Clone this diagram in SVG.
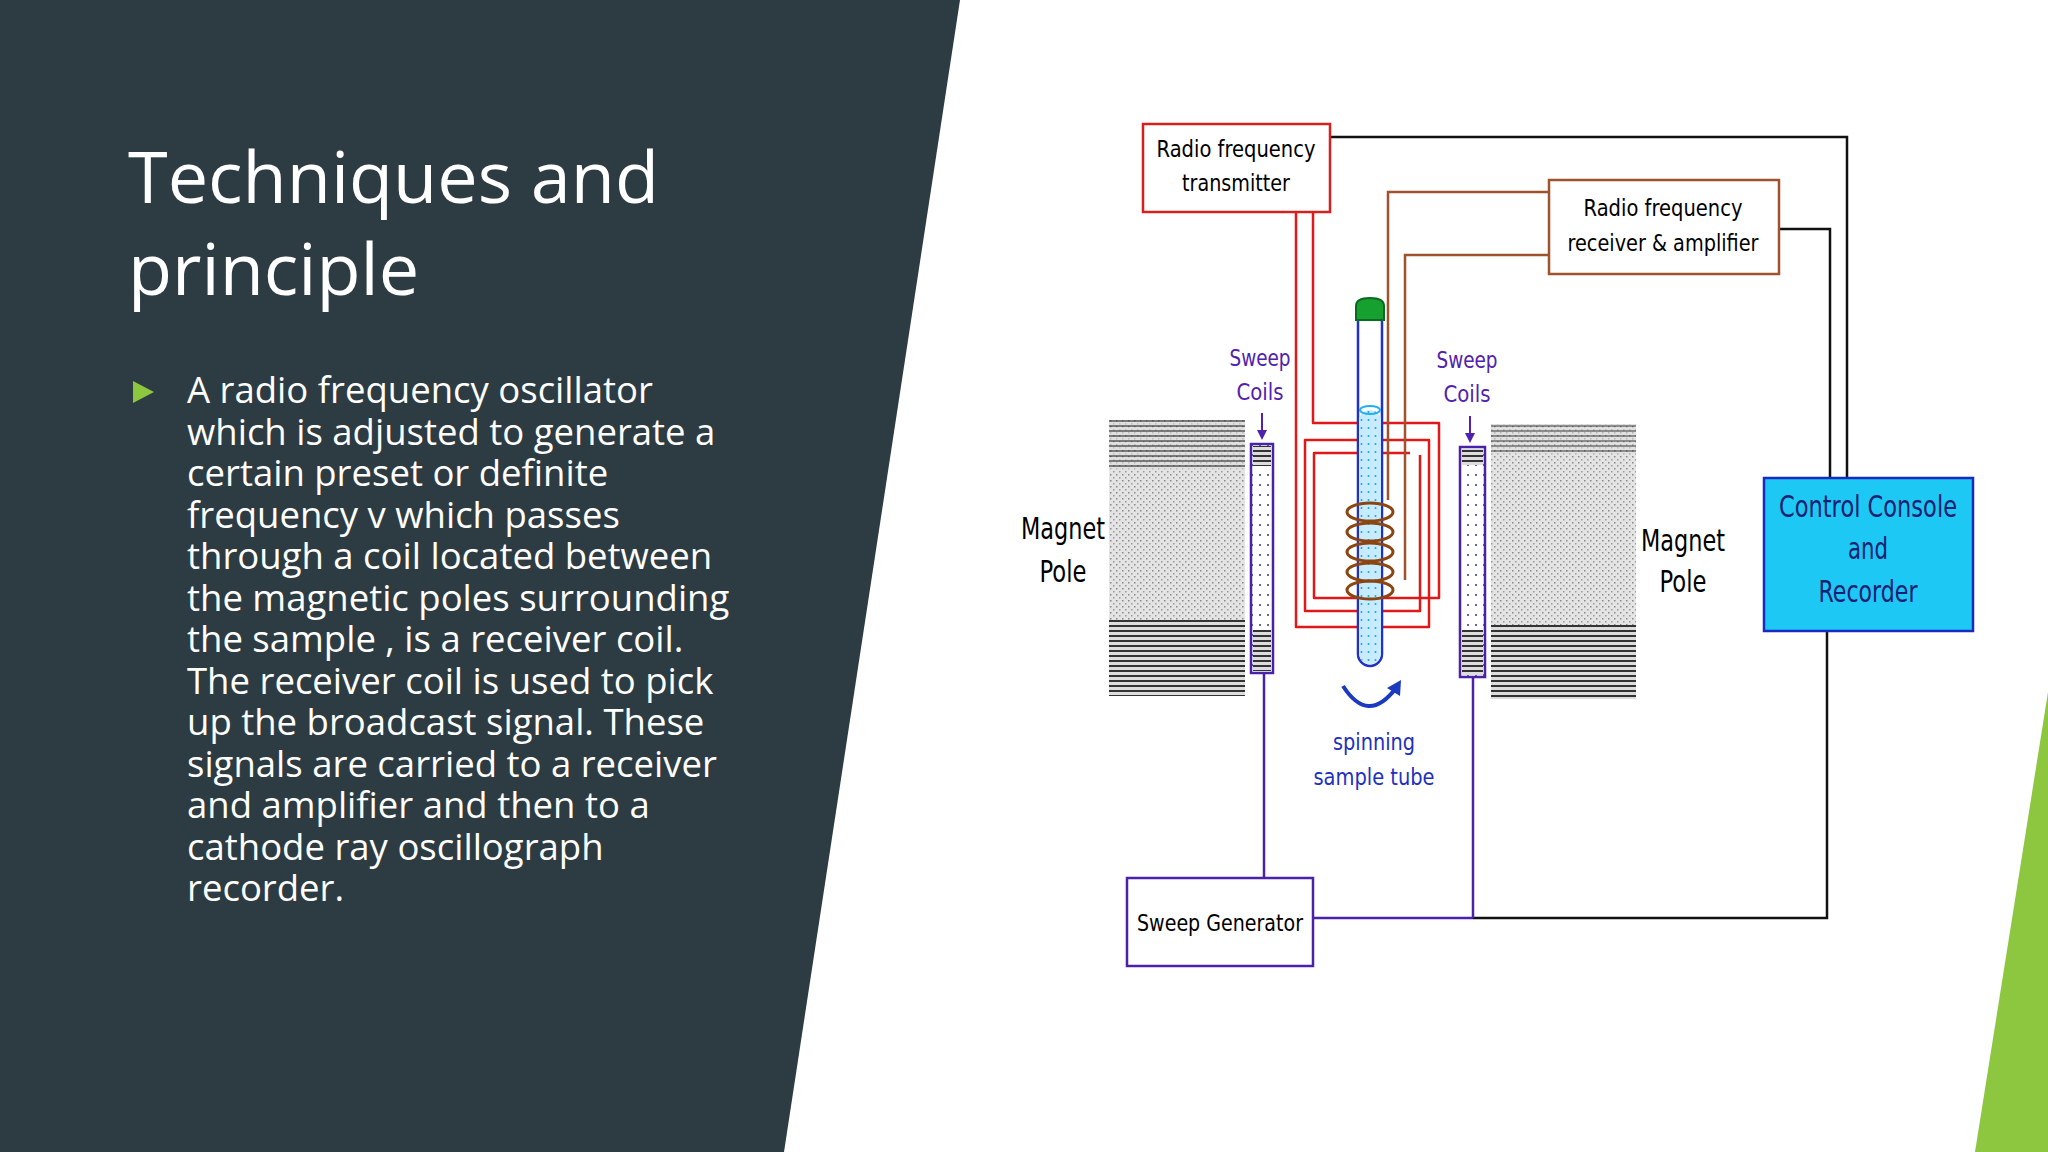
<svg xmlns="http://www.w3.org/2000/svg" width="2048" height="1152" viewBox="0 0 2048 1152">
<style>
.t{font-family:"Open Sans","Liberation Sans",sans-serif;fill:#fff}
.d{font-family:"DejaVu Sans","Liberation Sans",sans-serif;text-anchor:middle}
.box{fill:#fff;stroke-width:2.5}
.w{fill:none;stroke-width:2.5}
</style>
<defs>
<pattern id="grain" width="6" height="6" patternUnits="userSpaceOnUse">
<rect width="6" height="6" fill="#e4e4e4"/><rect x="0" y="0" width="1.5" height="1.5" fill="#888"/><rect x="3" y="3" width="1.5" height="1.5" fill="#999"/>
</pattern>
<pattern id="stripes" width="8" height="5" patternUnits="userSpaceOnUse">
<rect width="8" height="5" fill="#ddd"/><rect width="8" height="2" fill="#333"/>
</pattern>
<pattern id="dots" width="8" height="10" patternUnits="userSpaceOnUse">
<rect width="8" height="10" fill="#fff"/><circle cx="4" cy="5" r="1" fill="#3030a0"/>
</pattern>
<pattern id="tdots" width="7" height="8" patternUnits="userSpaceOnUse">
<rect width="7" height="8" fill="#c8ecff"/><circle cx="3.5" cy="4" r="1" fill="#20a0e0"/>
</pattern>
</defs>
<rect width="2048" height="1152" fill="#fff"/>
<polygon points="0,0 960,0 784,1152 0,1152" fill="#2d3b42"/>
<polygon points="2048,692 1975,1152 2048,1152" fill="#8dc63f"/>
<g id="title"><text class="t" x="128" y="203" font-size="72">Techniques and</text><text class="t" x="128" y="295" font-size="72">principle</text></g>
<g id="body">
<polygon points="133,381 154,392 133,403" fill="#8dc63f"/>
<text class="t" font-size="36.5"><tspan x="187" y="403">A radio frequency oscillator</tspan><tspan x="187" y="445">which is adjusted to generate a</tspan><tspan x="187" y="486">certain preset or definite</tspan><tspan x="187" y="528">frequency v which passes</tspan><tspan x="187" y="569">through a coil located between</tspan><tspan x="187" y="611">the magnetic poles surrounding</tspan><tspan x="187" y="652">the sample , is a receiver coil.</tspan><tspan x="187" y="694">The receiver coil is used to pick</tspan><tspan x="187" y="735">up the broadcast signal. These</tspan><tspan x="187" y="777">signals are carried to a receiver</tspan><tspan x="187" y="818">and amplifier and then to a</tspan><tspan x="187" y="860">cathode ray oscillograph</tspan><tspan x="187" y="901">recorder.</tspan></text>
</g>
<g id="connectors">
<path class="w" stroke="#111" d="M1330,137 H1847 V478"/>
<path class="w" stroke="#111" d="M1779,229 H1830 V478"/>
<path class="w" stroke="#111" d="M1827,631 V918 H1473"/>
<path class="w" stroke="#4a22a8" d="M1473,918 H1313"/>
<path class="w" stroke="#4a22a8" d="M1264,673 V878"/>
<path class="w" stroke="#4a22a8" d="M1473,677 V918"/>
<path class="w" stroke="#e01818" stroke-linejoin="round" d="M1296,212 V627 H1429 V440 H1305 V611 H1420 V455"/>
<path class="w" stroke="#e01818" stroke-linejoin="round" d="M1313,212 V423 H1439 V598 H1314 V453 H1410"/>
<path class="w" stroke="#a0522d" d="M1549,192 H1388 V500"/>
<path class="w" stroke="#a0522d" d="M1549,255 H1405 V580"/>
</g>
<g id="magnet-left"><rect x="1109" y="420" width="136" height="276" fill="url(#grain)"/><rect x="1109" y="420" width="136" height="50" fill="url(#stripes)" opacity="0.6"/><rect x="1109" y="620" width="136" height="76" fill="url(#stripes)"/></g>
<g id="magnet-right"><rect x="1491" y="424" width="145" height="275" fill="url(#grain)"/><rect x="1491" y="424" width="145" height="30" fill="url(#stripes)" opacity="0.5"/><rect x="1491" y="625" width="145" height="74" fill="url(#stripes)"/></g>
<g id="sweep-left"><rect x="1251" y="444" width="22" height="229" fill="url(#dots)" stroke="#4a22a8" stroke-width="2.5"/><rect x="1253" y="446" width="18" height="20" fill="url(#stripes)"/><rect x="1253" y="630" width="18" height="41" fill="url(#stripes)"/></g>
<g id="sweep-right"><rect x="1460" y="447" width="25" height="230" fill="url(#dots)" stroke="#4a22a8" stroke-width="2.5"/><rect x="1462" y="449" width="21" height="16" fill="url(#stripes)"/><rect x="1462" y="630" width="21" height="45" fill="url(#stripes)"/></g>
<g id="tube">
<rect x="1358" y="310" width="24" height="356" rx="12" fill="#fff" stroke="#2030c8" stroke-width="2.5"/>
<rect x="1359" y="410" width="22" height="254" rx="11" fill="url(#tdots)"/>
<ellipse cx="1370" cy="410" rx="10" ry="4" fill="none" stroke="#20b0f0" stroke-width="2"/>
<path d="M1356,306 Q1356,298 1370,298 Q1384,298 1384,306 V320 H1356 Z" fill="#15a030" stroke="#0a6a20" stroke-width="2"/>
<g fill="none" stroke="#8b4513" stroke-width="3"><ellipse cx="1370" cy="512" rx="23" ry="9"/><ellipse cx="1370" cy="532" rx="23" ry="9"/><ellipse cx="1370" cy="552" rx="23" ry="9"/><ellipse cx="1370" cy="572" rx="23" ry="9"/><ellipse cx="1370" cy="590" rx="23" ry="9"/></g>
<path d="M1343,686 Q1368,725 1396,688" fill="none" stroke="#1a3ac0" stroke-width="4"/>
<path d="M1401,680 L1387,688 L1400,696 Z" fill="#1a3ac0"/>
</g>
<g id="transmitter"><rect class="box" x="1143" y="124" width="187" height="88" stroke="#d42020"/><text class="d" x="1236" y="157" font-size="23" textLength="159" lengthAdjust="spacingAndGlyphs">Radio frequency</text><text class="d" x="1236" y="191" font-size="23" textLength="108" lengthAdjust="spacingAndGlyphs">transmitter</text></g>
<g id="receiver"><rect class="box" x="1549" y="180" width="230" height="94" stroke="#a0522d"/><text class="d" x="1663" y="216" font-size="23" textLength="159" lengthAdjust="spacingAndGlyphs">Radio frequency</text><text class="d" x="1663" y="251" font-size="23" textLength="191" lengthAdjust="spacingAndGlyphs">receiver &amp; amplifier</text></g>
<g id="console"><rect x="1764" y="478" width="209" height="153" fill="#1ec8f5" stroke="#1a2ac0" stroke-width="2.5"/><text class="d" x="1868" y="517" font-size="31" fill="#182070" textLength="178" lengthAdjust="spacingAndGlyphs">Control Console</text><text class="d" x="1868" y="559" font-size="31" fill="#182070" textLength="40" lengthAdjust="spacingAndGlyphs">and</text><text class="d" x="1868" y="602" font-size="31" fill="#182070" textLength="99" lengthAdjust="spacingAndGlyphs">Recorder</text></g>
<g id="sweep-generator"><rect class="box" x="1127" y="878" width="186" height="88" stroke="#4a22a8"/><text class="d" x="1220" y="931" font-size="23" textLength="166" lengthAdjust="spacingAndGlyphs">Sweep Generator</text></g>
<g id="labels">
<text class="d" x="1063" y="539" font-size="31" textLength="84" lengthAdjust="spacingAndGlyphs">Magnet</text><text class="d" x="1063" y="582" font-size="31" textLength="47" lengthAdjust="spacingAndGlyphs">Pole</text>
<text class="d" x="1683" y="551" font-size="31" textLength="84" lengthAdjust="spacingAndGlyphs">Magnet</text><text class="d" x="1683" y="592" font-size="31" textLength="47" lengthAdjust="spacingAndGlyphs">Pole</text>
<text class="d" x="1260" y="366" font-size="23" fill="#5020b0" textLength="61" lengthAdjust="spacingAndGlyphs">Sweep</text><text class="d" x="1260" y="400" font-size="23" fill="#5020b0" textLength="47" lengthAdjust="spacingAndGlyphs">Coils</text>
<text class="d" x="1467" y="368" font-size="23" fill="#5020b0" textLength="61" lengthAdjust="spacingAndGlyphs">Sweep</text><text class="d" x="1467" y="402" font-size="23" fill="#5020b0" textLength="47" lengthAdjust="spacingAndGlyphs">Coils</text>
<text class="d" x="1374" y="750" font-size="23" fill="#2030c0" textLength="82" lengthAdjust="spacingAndGlyphs">spinning</text><text class="d" x="1374" y="785" font-size="23" fill="#2030c0" textLength="121" lengthAdjust="spacingAndGlyphs">sample tube</text>
<path d="M1262,413 V432" stroke="#5020b0" stroke-width="2"/><path d="M1257,430 L1262,440 L1267,430 Z" fill="#5020b0"/>
<path d="M1470,416 V435" stroke="#5020b0" stroke-width="2"/><path d="M1465,433 L1470,443 L1475,433 Z" fill="#5020b0"/>
</g>
</svg>
